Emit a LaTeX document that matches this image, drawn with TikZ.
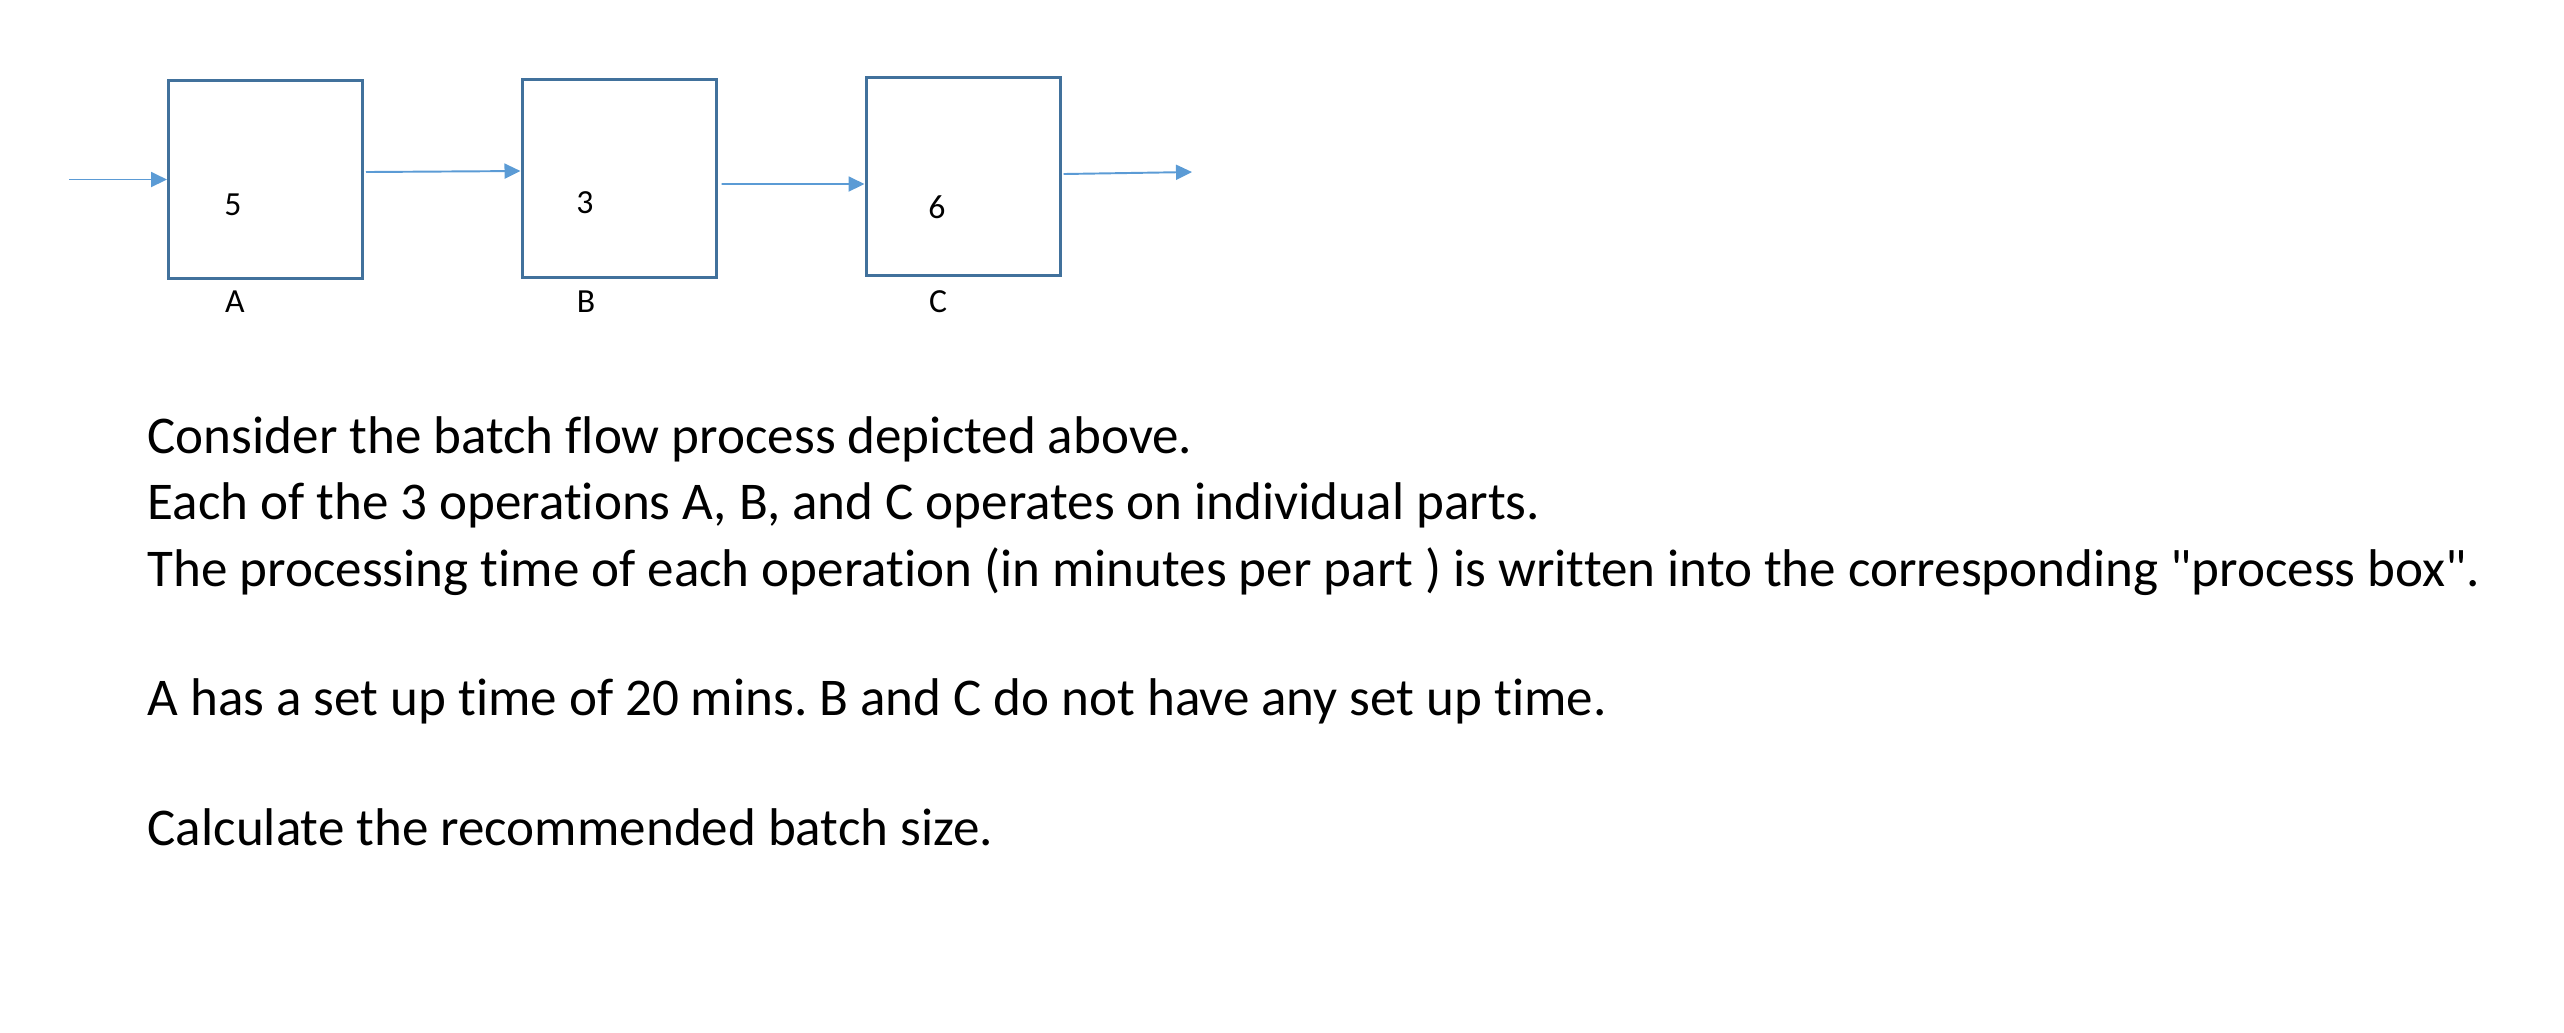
\documentclass[tikz,border=0pt]{standalone}
\usepackage{fontspec}
\setmainfont{Carlito}[Ligatures={TeXOff,NoCommon}]
\usepackage{xcolor}
\usepackage{tikz}
\usetikzlibrary{arrows.meta}
\frenchspacing
\definecolor{boxline}{HTML}{41719C}
\definecolor{flowline}{HTML}{5B9BD5}
\newcommand{\bodysize}{\fontsize{15.1pt}{18pt}\selectfont}
\newcommand{\labsize}{\fontsize{9.6pt}{11pt}\selectfont}
\tikzstyle{procbox} = [draw=boxline, line width=0.85pt, fill=white,
rectangle, minimum width=1.94cm, minimum height=1.98cm, inner sep=0pt]
\tikzstyle{proclabel} =[font=\labsize, inner sep=0pt]
\tikzstyle{bodyline} =[font=\bodysize, inner sep=0pt, anchor=base west]
\tikzstyle{flow} =[draw=flowline, line width=0.55pt,
-{Triangle[length=0.16cm, width=0.15cm]}, flowline]

\begin{document}
\begin{tikzpicture}
        \useasboundingbox (0,0) rectangle (25.64,-10.32);
        % process boxes with times
        \node [procbox] (procA) at (2.655,-1.795) {};
        \node [procbox] (procB) at (6.19,-1.785) {};
        \node [procbox] (procC) at (9.63,-1.765) {};
        \node [proclabel] (timeA) at (2.33,-2.05) {5};
        \node [proclabel] (timeB) at (5.85,-2.03) {3};
        \node [proclabel] (timeC) at (9.37,-2.07) {6};
        \node [proclabel] (nameA) at (2.35,-3.02) {A};
        \node [proclabel] (nameB) at (5.86,-3.02) {B};
        \node [proclabel] (nameC) at (9.38,-3.02) {C};
        % flow
        \coordinate (inflow) at (0.69,-1.795);
        \coordinate (outflow) at (11.92,-1.72);
        \draw [flow] (inflow) -- (procA.west);
        \draw [flow] ([xshift=0.02cm, yshift=0.75mm]procA.east) -- ([yshift=0.75mm]procB.west);
        \draw [flow] ([xshift=0.04cm, yshift=-0.55mm]procB.east) -- ([yshift=-0.75mm]procC.west);
        \draw [flow] ([xshift=0.02cm, yshift=0.25mm]procC.east) -- (outflow);
        % question text
        \node [bodyline] (line1) at (1.47,-4.53) {Consider the batch flow process depicted above.};
        \node [bodyline] (line2) at (1.47,-5.19) {Each of the 3 operations A, B, and C operates on individual parts.};
        \node [bodyline] (line3) at (1.47,-5.86) {The processing time of each operation (in minutes per part ) is written into the corresponding "process box".};
        \node [bodyline] (line4) at (1.47,-7.15) {A has a set up time of 20 mins. B and C do not have any set up time.};
        \node [bodyline] (line5) at (1.47,-8.45) {Calculate the recommended batch size.};
    \end{tikzpicture}
\end{document}
